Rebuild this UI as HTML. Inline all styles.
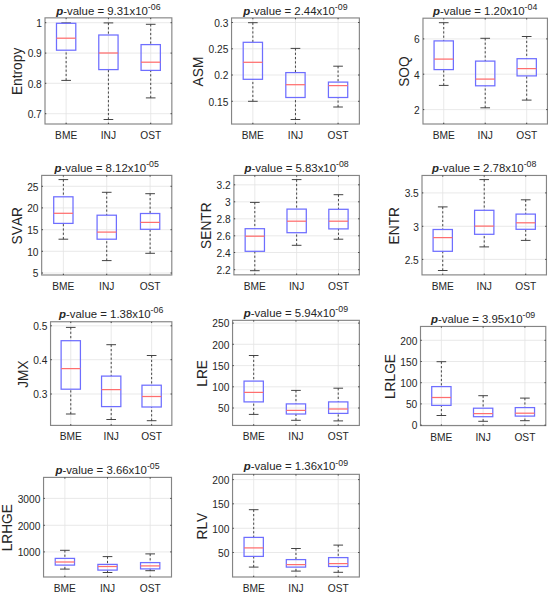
<!DOCTYPE html>
<html><head><meta charset="utf-8"><title>p-value box plots</title>
<style>
html,body{margin:0;padding:0;background:#fff;}
body{width:550px;height:594px;overflow:hidden;}
svg{display:block;}
text{font-family:"Liberation Sans",sans-serif;fill:#262626;font-kerning:none;}
.tl{font-size:10.2px;}
.yl{font-size:14.4px;}
.ti{font-size:11.4px;}
.pb{font-weight:bold;font-style:italic;}
.sp{font-size:8.8px;}
.gr{stroke:#e3e3e3;stroke-width:0.8;}
.ax{fill:none;stroke:#858585;stroke-width:1.15;}
.tk{stroke:#333;stroke-width:0.9;}
.wh{stroke:#454545;stroke-width:1;stroke-dasharray:2.2 2.1;}
.cap{stroke:#3a3a3a;stroke-width:0.95;}
.bx{fill:none;stroke:#6e6eff;stroke-width:1.25;}
.md{stroke:#ff6e6e;stroke-width:1.25;}
</style></head>
<body><svg width="550" height="594" viewBox="0 0 550 594">
<rect width="550" height="594" fill="#fff"/>
<g><line x1="45" y1="22.7" x2="171.85" y2="22.7" class="gr"/><line x1="45" y1="53.1" x2="171.85" y2="53.1" class="gr"/><line x1="45" y1="83.3" x2="171.85" y2="83.3" class="gr"/><line x1="45" y1="113.7" x2="171.85" y2="113.7" class="gr"/><line x1="66.14" y1="17.85" x2="66.14" y2="124" class="gr"/><line x1="108.42" y1="17.85" x2="108.42" y2="124" class="gr"/><line x1="150.71" y1="17.85" x2="150.71" y2="124" class="gr"/><line x1="66.14" y1="22.9" x2="66.14" y2="23.3" class="wh"/><line x1="66.14" y1="80.4" x2="66.14" y2="50.2" class="wh"/><line x1="61.32" y1="22.9" x2="70.97" y2="22.9" class="cap"/><line x1="61.32" y1="80.4" x2="70.97" y2="80.4" class="cap"/><rect x="56.49" y="23.3" width="19.3" height="26.9" class="bx"/><line x1="56.49" y1="38.2" x2="75.79" y2="38.2" class="md"/><line x1="108.42" y1="22.9" x2="108.42" y2="35" class="wh"/><line x1="108.42" y1="119.5" x2="108.42" y2="69.6" class="wh"/><line x1="103.6" y1="22.9" x2="113.25" y2="22.9" class="cap"/><line x1="103.6" y1="119.5" x2="113.25" y2="119.5" class="cap"/><rect x="98.77" y="35" width="19.3" height="34.6" class="bx"/><line x1="98.77" y1="53" x2="118.07" y2="53" class="md"/><line x1="150.71" y1="24.3" x2="150.71" y2="44.6" class="wh"/><line x1="150.71" y1="97.9" x2="150.71" y2="70.4" class="wh"/><line x1="145.88" y1="24.3" x2="155.53" y2="24.3" class="cap"/><line x1="145.88" y1="97.9" x2="155.53" y2="97.9" class="cap"/><rect x="141.06" y="44.6" width="19.3" height="25.8" class="bx"/><line x1="141.06" y1="62.2" x2="160.36" y2="62.2" class="md"/><rect x="45" y="17.85" width="126.85" height="106.15" class="ax"/><line x1="45" y1="22.7" x2="46.3" y2="22.7" class="tk"/><line x1="171.85" y1="22.7" x2="170.55" y2="22.7" class="tk"/><line x1="45" y1="53.1" x2="46.3" y2="53.1" class="tk"/><line x1="171.85" y1="53.1" x2="170.55" y2="53.1" class="tk"/><line x1="45" y1="83.3" x2="46.3" y2="83.3" class="tk"/><line x1="171.85" y1="83.3" x2="170.55" y2="83.3" class="tk"/><line x1="45" y1="113.7" x2="46.3" y2="113.7" class="tk"/><line x1="171.85" y1="113.7" x2="170.55" y2="113.7" class="tk"/><line x1="66.14" y1="124" x2="66.14" y2="122.7" class="tk"/><line x1="66.14" y1="17.85" x2="66.14" y2="19.15" class="tk"/><line x1="108.42" y1="124" x2="108.42" y2="122.7" class="tk"/><line x1="108.42" y1="17.85" x2="108.42" y2="19.15" class="tk"/><line x1="150.71" y1="124" x2="150.71" y2="122.7" class="tk"/><line x1="150.71" y1="17.85" x2="150.71" y2="19.15" class="tk"/><text x="41.8" y="27" class="tl" text-anchor="end">1</text><text x="41.8" y="57.4" class="tl" text-anchor="end">0.9</text><text x="41.8" y="87.6" class="tl" text-anchor="end">0.8</text><text x="41.8" y="118" class="tl" text-anchor="end">0.7</text><text x="66.14" y="138.9" class="tl" text-anchor="middle">BME</text><text x="108.42" y="138.9" class="tl" text-anchor="middle">INJ</text><text x="150.71" y="138.9" class="tl" text-anchor="middle">OST</text><text transform="translate(22,71.42) rotate(-90) scale(0.955,1)" class="yl" text-anchor="middle">Entropy</text><text x="108.42" y="14.55" class="ti" text-anchor="middle"><tspan class="pb">p</tspan>-value = 9.31x10<tspan class="sp" dy="-4.8">-06</tspan></text></g>
<g><line x1="231.55" y1="22.5" x2="359.37" y2="22.5" class="gr"/><line x1="231.55" y1="48.8" x2="359.37" y2="48.8" class="gr"/><line x1="231.55" y1="75" x2="359.37" y2="75" class="gr"/><line x1="231.55" y1="101.3" x2="359.37" y2="101.3" class="gr"/><line x1="252.85" y1="17.96" x2="252.85" y2="124.05" class="gr"/><line x1="295.46" y1="17.96" x2="295.46" y2="124.05" class="gr"/><line x1="338.07" y1="17.96" x2="338.07" y2="124.05" class="gr"/><line x1="252.85" y1="22.7" x2="252.85" y2="42.3" class="wh"/><line x1="252.85" y1="101.3" x2="252.85" y2="79.3" class="wh"/><line x1="248.03" y1="22.7" x2="257.68" y2="22.7" class="cap"/><line x1="248.03" y1="101.3" x2="257.68" y2="101.3" class="cap"/><rect x="243.2" y="42.3" width="19.3" height="37" class="bx"/><line x1="243.2" y1="62.3" x2="262.5" y2="62.3" class="md"/><line x1="295.46" y1="48.4" x2="295.46" y2="72.6" class="wh"/><line x1="295.46" y1="119.5" x2="295.46" y2="97.5" class="wh"/><line x1="290.64" y1="48.4" x2="300.29" y2="48.4" class="cap"/><line x1="290.64" y1="119.5" x2="300.29" y2="119.5" class="cap"/><rect x="285.81" y="72.6" width="19.3" height="24.9" class="bx"/><line x1="285.81" y1="84.7" x2="305.11" y2="84.7" class="md"/><line x1="338.07" y1="66.2" x2="338.07" y2="82.1" class="wh"/><line x1="338.07" y1="107" x2="338.07" y2="97.5" class="wh"/><line x1="333.24" y1="66.2" x2="342.89" y2="66.2" class="cap"/><line x1="333.24" y1="107" x2="342.89" y2="107" class="cap"/><rect x="328.42" y="82.1" width="19.3" height="15.4" class="bx"/><line x1="328.42" y1="85.6" x2="347.72" y2="85.6" class="md"/><rect x="231.55" y="17.96" width="127.82" height="106.09" class="ax"/><line x1="231.55" y1="22.5" x2="232.85" y2="22.5" class="tk"/><line x1="359.37" y1="22.5" x2="358.07" y2="22.5" class="tk"/><line x1="231.55" y1="48.8" x2="232.85" y2="48.8" class="tk"/><line x1="359.37" y1="48.8" x2="358.07" y2="48.8" class="tk"/><line x1="231.55" y1="75" x2="232.85" y2="75" class="tk"/><line x1="359.37" y1="75" x2="358.07" y2="75" class="tk"/><line x1="231.55" y1="101.3" x2="232.85" y2="101.3" class="tk"/><line x1="359.37" y1="101.3" x2="358.07" y2="101.3" class="tk"/><line x1="252.85" y1="124.05" x2="252.85" y2="122.75" class="tk"/><line x1="252.85" y1="17.96" x2="252.85" y2="19.26" class="tk"/><line x1="295.46" y1="124.05" x2="295.46" y2="122.75" class="tk"/><line x1="295.46" y1="17.96" x2="295.46" y2="19.26" class="tk"/><line x1="338.07" y1="124.05" x2="338.07" y2="122.75" class="tk"/><line x1="338.07" y1="17.96" x2="338.07" y2="19.26" class="tk"/><text x="228.35" y="26.8" class="tl" text-anchor="end">0.3</text><text x="228.35" y="53.1" class="tl" text-anchor="end">0.25</text><text x="228.35" y="79.3" class="tl" text-anchor="end">0.2</text><text x="228.35" y="105.6" class="tl" text-anchor="end">0.15</text><text x="252.85" y="138.95" class="tl" text-anchor="middle">BME</text><text x="295.46" y="138.95" class="tl" text-anchor="middle">INJ</text><text x="338.07" y="138.95" class="tl" text-anchor="middle">OST</text><text transform="translate(203.2,71.5) rotate(-90) scale(0.955,1)" class="yl" text-anchor="middle">ASM</text><text x="295.46" y="14.6" class="ti" text-anchor="middle"><tspan class="pb">p</tspan>-value = 2.44x10<tspan class="sp" dy="-4.8">-09</tspan></text></g>
<g><line x1="422.98" y1="38.9" x2="547.44" y2="38.9" class="gr"/><line x1="422.98" y1="74.2" x2="547.44" y2="74.2" class="gr"/><line x1="422.98" y1="109.6" x2="547.44" y2="109.6" class="gr"/><line x1="443.72" y1="18.2" x2="443.72" y2="124" class="gr"/><line x1="485.21" y1="18.2" x2="485.21" y2="124" class="gr"/><line x1="526.7" y1="18.2" x2="526.7" y2="124" class="gr"/><line x1="443.72" y1="22.7" x2="443.72" y2="40.9" class="wh"/><line x1="443.72" y1="85.4" x2="443.72" y2="69.6" class="wh"/><line x1="438.9" y1="22.7" x2="448.55" y2="22.7" class="cap"/><line x1="438.9" y1="85.4" x2="448.55" y2="85.4" class="cap"/><rect x="434.07" y="40.9" width="19.3" height="28.7" class="bx"/><line x1="434.07" y1="59.1" x2="453.37" y2="59.1" class="md"/><line x1="485.21" y1="38.3" x2="485.21" y2="61.1" class="wh"/><line x1="485.21" y1="107.8" x2="485.21" y2="85.8" class="wh"/><line x1="480.39" y1="38.3" x2="490.04" y2="38.3" class="cap"/><line x1="480.39" y1="107.8" x2="490.04" y2="107.8" class="cap"/><rect x="475.56" y="61.1" width="19.3" height="24.7" class="bx"/><line x1="475.56" y1="79.1" x2="494.86" y2="79.1" class="md"/><line x1="526.7" y1="36.5" x2="526.7" y2="58.7" class="wh"/><line x1="526.7" y1="100.1" x2="526.7" y2="75.9" class="wh"/><line x1="521.87" y1="36.5" x2="531.52" y2="36.5" class="cap"/><line x1="521.87" y1="100.1" x2="531.52" y2="100.1" class="cap"/><rect x="517.05" y="58.7" width="19.3" height="17.2" class="bx"/><line x1="517.05" y1="68.6" x2="536.35" y2="68.6" class="md"/><rect x="422.98" y="18.2" width="124.46" height="105.8" class="ax"/><line x1="422.98" y1="38.9" x2="424.28" y2="38.9" class="tk"/><line x1="547.44" y1="38.9" x2="546.14" y2="38.9" class="tk"/><line x1="422.98" y1="74.2" x2="424.28" y2="74.2" class="tk"/><line x1="547.44" y1="74.2" x2="546.14" y2="74.2" class="tk"/><line x1="422.98" y1="109.6" x2="424.28" y2="109.6" class="tk"/><line x1="547.44" y1="109.6" x2="546.14" y2="109.6" class="tk"/><line x1="443.72" y1="124" x2="443.72" y2="122.7" class="tk"/><line x1="443.72" y1="18.2" x2="443.72" y2="19.5" class="tk"/><line x1="485.21" y1="124" x2="485.21" y2="122.7" class="tk"/><line x1="485.21" y1="18.2" x2="485.21" y2="19.5" class="tk"/><line x1="526.7" y1="124" x2="526.7" y2="122.7" class="tk"/><line x1="526.7" y1="18.2" x2="526.7" y2="19.5" class="tk"/><text x="419.78" y="43.2" class="tl" text-anchor="end">6</text><text x="419.78" y="78.5" class="tl" text-anchor="end">4</text><text x="419.78" y="113.9" class="tl" text-anchor="end">2</text><text x="443.72" y="138.9" class="tl" text-anchor="middle">BME</text><text x="485.21" y="138.9" class="tl" text-anchor="middle">INJ</text><text x="526.7" y="138.9" class="tl" text-anchor="middle">OST</text><text transform="translate(409.1,71.6) rotate(-90) scale(0.955,1)" class="yl" text-anchor="middle">SOQ</text><text x="485.21" y="14.6" class="ti" text-anchor="middle"><tspan class="pb">p</tspan>-value = 1.20x10<tspan class="sp" dy="-4.8">-04</tspan></text></g>
<g><line x1="41.67" y1="186.3" x2="171.8" y2="186.3" class="gr"/><line x1="41.67" y1="207.9" x2="171.8" y2="207.9" class="gr"/><line x1="41.67" y1="229.7" x2="171.8" y2="229.7" class="gr"/><line x1="41.67" y1="251.3" x2="171.8" y2="251.3" class="gr"/><line x1="41.67" y1="273" x2="171.8" y2="273" class="gr"/><line x1="63.36" y1="175.4" x2="63.36" y2="275" class="gr"/><line x1="106.73" y1="175.4" x2="106.73" y2="275" class="gr"/><line x1="150.11" y1="175.4" x2="150.11" y2="275" class="gr"/><line x1="63.36" y1="179.6" x2="63.36" y2="196.8" class="wh"/><line x1="63.36" y1="239.2" x2="63.36" y2="223.4" class="wh"/><line x1="58.53" y1="179.6" x2="68.18" y2="179.6" class="cap"/><line x1="58.53" y1="239.2" x2="68.18" y2="239.2" class="cap"/><rect x="53.71" y="196.8" width="19.3" height="26.6" class="bx"/><line x1="53.71" y1="213.3" x2="73.01" y2="213.3" class="md"/><line x1="106.73" y1="192.3" x2="106.73" y2="215.2" class="wh"/><line x1="106.73" y1="260.6" x2="106.73" y2="239.2" class="wh"/><line x1="101.91" y1="192.3" x2="111.56" y2="192.3" class="cap"/><line x1="101.91" y1="260.6" x2="111.56" y2="260.6" class="cap"/><rect x="97.08" y="215.2" width="19.3" height="24" class="bx"/><line x1="97.08" y1="232.1" x2="116.39" y2="232.1" class="md"/><line x1="150.11" y1="193.7" x2="150.11" y2="213.5" class="wh"/><line x1="150.11" y1="253.3" x2="150.11" y2="229.3" class="wh"/><line x1="145.29" y1="193.7" x2="154.94" y2="193.7" class="cap"/><line x1="145.29" y1="253.3" x2="154.94" y2="253.3" class="cap"/><rect x="140.46" y="213.5" width="19.3" height="15.8" class="bx"/><line x1="140.46" y1="222.4" x2="159.76" y2="222.4" class="md"/><rect x="41.67" y="175.4" width="130.13" height="99.6" class="ax"/><line x1="41.67" y1="186.3" x2="42.97" y2="186.3" class="tk"/><line x1="171.8" y1="186.3" x2="170.5" y2="186.3" class="tk"/><line x1="41.67" y1="207.9" x2="42.97" y2="207.9" class="tk"/><line x1="171.8" y1="207.9" x2="170.5" y2="207.9" class="tk"/><line x1="41.67" y1="229.7" x2="42.97" y2="229.7" class="tk"/><line x1="171.8" y1="229.7" x2="170.5" y2="229.7" class="tk"/><line x1="41.67" y1="251.3" x2="42.97" y2="251.3" class="tk"/><line x1="171.8" y1="251.3" x2="170.5" y2="251.3" class="tk"/><line x1="41.67" y1="273" x2="42.97" y2="273" class="tk"/><line x1="171.8" y1="273" x2="170.5" y2="273" class="tk"/><line x1="63.36" y1="275" x2="63.36" y2="273.7" class="tk"/><line x1="63.36" y1="175.4" x2="63.36" y2="176.7" class="tk"/><line x1="106.73" y1="275" x2="106.73" y2="273.7" class="tk"/><line x1="106.73" y1="175.4" x2="106.73" y2="176.7" class="tk"/><line x1="150.11" y1="275" x2="150.11" y2="273.7" class="tk"/><line x1="150.11" y1="175.4" x2="150.11" y2="176.7" class="tk"/><text x="38.47" y="190.6" class="tl" text-anchor="end">25</text><text x="38.47" y="212.2" class="tl" text-anchor="end">20</text><text x="38.47" y="234" class="tl" text-anchor="end">15</text><text x="38.47" y="255.6" class="tl" text-anchor="end">10</text><text x="38.47" y="277.3" class="tl" text-anchor="end">5</text><text x="63.36" y="289.9" class="tl" text-anchor="middle">BME</text><text x="106.73" y="289.9" class="tl" text-anchor="middle">INJ</text><text x="150.11" y="289.9" class="tl" text-anchor="middle">OST</text><text transform="translate(22,225.7) rotate(-90) scale(0.955,1)" class="yl" text-anchor="middle">SVAR</text><text x="106.74" y="171.6" class="ti" text-anchor="middle"><tspan class="pb">p</tspan>-value = 8.12x10<tspan class="sp" dy="-4.8">-05</tspan></text></g>
<g><line x1="233.9" y1="184.8" x2="359.37" y2="184.8" class="gr"/><line x1="233.9" y1="201.8" x2="359.37" y2="201.8" class="gr"/><line x1="233.9" y1="218.8" x2="359.37" y2="218.8" class="gr"/><line x1="233.9" y1="235.8" x2="359.37" y2="235.8" class="gr"/><line x1="233.9" y1="252.5" x2="359.37" y2="252.5" class="gr"/><line x1="233.9" y1="269.7" x2="359.37" y2="269.7" class="gr"/><line x1="254.81" y1="175.46" x2="254.81" y2="274.84" class="gr"/><line x1="296.63" y1="175.46" x2="296.63" y2="274.84" class="gr"/><line x1="338.46" y1="175.46" x2="338.46" y2="274.84" class="gr"/><line x1="254.81" y1="202.4" x2="254.81" y2="228.7" class="wh"/><line x1="254.81" y1="270.7" x2="254.81" y2="251.3" class="wh"/><line x1="249.99" y1="202.4" x2="259.64" y2="202.4" class="cap"/><line x1="249.99" y1="270.7" x2="259.64" y2="270.7" class="cap"/><rect x="245.16" y="228.7" width="19.3" height="22.6" class="bx"/><line x1="245.16" y1="236.2" x2="264.46" y2="236.2" class="md"/><line x1="296.63" y1="179.6" x2="296.63" y2="209.1" class="wh"/><line x1="296.63" y1="245.3" x2="296.63" y2="232.7" class="wh"/><line x1="291.81" y1="179.6" x2="301.46" y2="179.6" class="cap"/><line x1="291.81" y1="245.3" x2="301.46" y2="245.3" class="cap"/><rect x="286.99" y="209.1" width="19.3" height="23.6" class="bx"/><line x1="286.99" y1="221.2" x2="306.28" y2="221.2" class="md"/><line x1="338.46" y1="194.7" x2="338.46" y2="209.3" class="wh"/><line x1="338.46" y1="239.2" x2="338.46" y2="228.9" class="wh"/><line x1="333.63" y1="194.7" x2="343.28" y2="194.7" class="cap"/><line x1="333.63" y1="239.2" x2="343.28" y2="239.2" class="cap"/><rect x="328.81" y="209.3" width="19.3" height="19.6" class="bx"/><line x1="328.81" y1="221.2" x2="348.11" y2="221.2" class="md"/><rect x="233.9" y="175.46" width="125.47" height="99.38" class="ax"/><line x1="233.9" y1="184.8" x2="235.2" y2="184.8" class="tk"/><line x1="359.37" y1="184.8" x2="358.07" y2="184.8" class="tk"/><line x1="233.9" y1="201.8" x2="235.2" y2="201.8" class="tk"/><line x1="359.37" y1="201.8" x2="358.07" y2="201.8" class="tk"/><line x1="233.9" y1="218.8" x2="235.2" y2="218.8" class="tk"/><line x1="359.37" y1="218.8" x2="358.07" y2="218.8" class="tk"/><line x1="233.9" y1="235.8" x2="235.2" y2="235.8" class="tk"/><line x1="359.37" y1="235.8" x2="358.07" y2="235.8" class="tk"/><line x1="233.9" y1="252.5" x2="235.2" y2="252.5" class="tk"/><line x1="359.37" y1="252.5" x2="358.07" y2="252.5" class="tk"/><line x1="233.9" y1="269.7" x2="235.2" y2="269.7" class="tk"/><line x1="359.37" y1="269.7" x2="358.07" y2="269.7" class="tk"/><line x1="254.81" y1="274.84" x2="254.81" y2="273.54" class="tk"/><line x1="254.81" y1="175.46" x2="254.81" y2="176.76" class="tk"/><line x1="296.63" y1="274.84" x2="296.63" y2="273.54" class="tk"/><line x1="296.63" y1="175.46" x2="296.63" y2="176.76" class="tk"/><line x1="338.46" y1="274.84" x2="338.46" y2="273.54" class="tk"/><line x1="338.46" y1="175.46" x2="338.46" y2="176.76" class="tk"/><text x="230.7" y="189.1" class="tl" text-anchor="end">3.2</text><text x="230.7" y="206.1" class="tl" text-anchor="end">3</text><text x="230.7" y="223.1" class="tl" text-anchor="end">2.8</text><text x="230.7" y="240.1" class="tl" text-anchor="end">2.6</text><text x="230.7" y="256.8" class="tl" text-anchor="end">2.4</text><text x="230.7" y="274" class="tl" text-anchor="end">2.2</text><text x="254.81" y="289.74" class="tl" text-anchor="middle">BME</text><text x="296.63" y="289.74" class="tl" text-anchor="middle">INJ</text><text x="338.46" y="289.74" class="tl" text-anchor="middle">OST</text><text transform="translate(211.2,225.65) rotate(-90) scale(0.955,1)" class="yl" text-anchor="middle">SENTR</text><text x="296.63" y="171.6" class="ti" text-anchor="middle"><tspan class="pb">p</tspan>-value = 5.83x10<tspan class="sp" dy="-4.8">-08</tspan></text></g>
<g><line x1="422" y1="192.9" x2="546.45" y2="192.9" class="gr"/><line x1="422" y1="226.3" x2="546.45" y2="226.3" class="gr"/><line x1="422" y1="259.4" x2="546.45" y2="259.4" class="gr"/><line x1="442.74" y1="175.46" x2="442.74" y2="274.9" class="gr"/><line x1="484.23" y1="175.46" x2="484.23" y2="274.9" class="gr"/><line x1="525.71" y1="175.46" x2="525.71" y2="274.9" class="gr"/><line x1="442.74" y1="206.9" x2="442.74" y2="229.5" class="wh"/><line x1="442.74" y1="270.5" x2="442.74" y2="251.3" class="wh"/><line x1="437.92" y1="206.9" x2="447.57" y2="206.9" class="cap"/><line x1="437.92" y1="270.5" x2="447.57" y2="270.5" class="cap"/><rect x="433.09" y="229.5" width="19.3" height="21.8" class="bx"/><line x1="433.09" y1="237.6" x2="452.39" y2="237.6" class="md"/><line x1="484.23" y1="179.6" x2="484.23" y2="210.3" class="wh"/><line x1="484.23" y1="246.9" x2="484.23" y2="234.3" class="wh"/><line x1="479.4" y1="179.6" x2="489.05" y2="179.6" class="cap"/><line x1="479.4" y1="246.9" x2="489.05" y2="246.9" class="cap"/><rect x="474.58" y="210.3" width="19.3" height="24" class="bx"/><line x1="474.58" y1="226.1" x2="493.88" y2="226.1" class="md"/><line x1="525.71" y1="199.8" x2="525.71" y2="214.1" class="wh"/><line x1="525.71" y1="240.4" x2="525.71" y2="229.3" class="wh"/><line x1="520.88" y1="199.8" x2="530.53" y2="199.8" class="cap"/><line x1="520.88" y1="240.4" x2="530.53" y2="240.4" class="cap"/><rect x="516.06" y="214.1" width="19.3" height="15.2" class="bx"/><line x1="516.06" y1="222.8" x2="535.36" y2="222.8" class="md"/><rect x="422" y="175.46" width="124.45" height="99.44" class="ax"/><line x1="422" y1="192.9" x2="423.3" y2="192.9" class="tk"/><line x1="546.45" y1="192.9" x2="545.15" y2="192.9" class="tk"/><line x1="422" y1="226.3" x2="423.3" y2="226.3" class="tk"/><line x1="546.45" y1="226.3" x2="545.15" y2="226.3" class="tk"/><line x1="422" y1="259.4" x2="423.3" y2="259.4" class="tk"/><line x1="546.45" y1="259.4" x2="545.15" y2="259.4" class="tk"/><line x1="442.74" y1="274.9" x2="442.74" y2="273.6" class="tk"/><line x1="442.74" y1="175.46" x2="442.74" y2="176.76" class="tk"/><line x1="484.23" y1="274.9" x2="484.23" y2="273.6" class="tk"/><line x1="484.23" y1="175.46" x2="484.23" y2="176.76" class="tk"/><line x1="525.71" y1="274.9" x2="525.71" y2="273.6" class="tk"/><line x1="525.71" y1="175.46" x2="525.71" y2="176.76" class="tk"/><text x="418.8" y="197.2" class="tl" text-anchor="end">3.5</text><text x="418.8" y="230.6" class="tl" text-anchor="end">3</text><text x="418.8" y="263.7" class="tl" text-anchor="end">2.5</text><text x="442.74" y="289.8" class="tl" text-anchor="middle">BME</text><text x="484.23" y="289.8" class="tl" text-anchor="middle">INJ</text><text x="525.71" y="289.8" class="tl" text-anchor="middle">OST</text><text transform="translate(399.2,225.68) rotate(-90) scale(0.955,1)" class="yl" text-anchor="middle">ENTR</text><text x="484.23" y="171.6" class="ti" text-anchor="middle"><tspan class="pb">p</tspan>-value = 2.78x10<tspan class="sp" dy="-4.8">-08</tspan></text></g>
<g><line x1="50.55" y1="325.8" x2="171.85" y2="325.8" class="gr"/><line x1="50.55" y1="359.7" x2="171.85" y2="359.7" class="gr"/><line x1="50.55" y1="394" x2="171.85" y2="394" class="gr"/><line x1="70.77" y1="321.75" x2="70.77" y2="425.4" class="gr"/><line x1="111.2" y1="321.75" x2="111.2" y2="425.4" class="gr"/><line x1="151.63" y1="321.75" x2="151.63" y2="425.4" class="gr"/><line x1="70.77" y1="327.4" x2="70.77" y2="340.7" class="wh"/><line x1="70.77" y1="414" x2="70.77" y2="389.2" class="wh"/><line x1="65.94" y1="327.4" x2="75.59" y2="327.4" class="cap"/><line x1="65.94" y1="414" x2="75.59" y2="414" class="cap"/><rect x="61.12" y="340.7" width="19.3" height="48.5" class="bx"/><line x1="61.12" y1="368.6" x2="80.42" y2="368.6" class="md"/><line x1="111.2" y1="344.7" x2="111.2" y2="376.1" class="wh"/><line x1="111.2" y1="419.5" x2="111.2" y2="406.6" class="wh"/><line x1="106.37" y1="344.7" x2="116.02" y2="344.7" class="cap"/><line x1="106.37" y1="419.5" x2="116.02" y2="419.5" class="cap"/><rect x="101.55" y="376.1" width="19.3" height="30.5" class="bx"/><line x1="101.55" y1="389.6" x2="120.85" y2="389.6" class="md"/><line x1="151.63" y1="355.5" x2="151.63" y2="385.2" class="wh"/><line x1="151.63" y1="420.7" x2="151.63" y2="407" class="wh"/><line x1="146.81" y1="355.5" x2="156.46" y2="355.5" class="cap"/><line x1="146.81" y1="420.7" x2="156.46" y2="420.7" class="cap"/><rect x="141.98" y="385.2" width="19.3" height="21.8" class="bx"/><line x1="141.98" y1="396.5" x2="161.28" y2="396.5" class="md"/><rect x="50.55" y="321.75" width="121.3" height="103.65" class="ax"/><line x1="50.55" y1="325.8" x2="51.85" y2="325.8" class="tk"/><line x1="171.85" y1="325.8" x2="170.55" y2="325.8" class="tk"/><line x1="50.55" y1="359.7" x2="51.85" y2="359.7" class="tk"/><line x1="171.85" y1="359.7" x2="170.55" y2="359.7" class="tk"/><line x1="50.55" y1="394" x2="51.85" y2="394" class="tk"/><line x1="171.85" y1="394" x2="170.55" y2="394" class="tk"/><line x1="70.77" y1="425.4" x2="70.77" y2="424.1" class="tk"/><line x1="70.77" y1="321.75" x2="70.77" y2="323.05" class="tk"/><line x1="111.2" y1="425.4" x2="111.2" y2="424.1" class="tk"/><line x1="111.2" y1="321.75" x2="111.2" y2="323.05" class="tk"/><line x1="151.63" y1="425.4" x2="151.63" y2="424.1" class="tk"/><line x1="151.63" y1="321.75" x2="151.63" y2="323.05" class="tk"/><text x="47.35" y="330.1" class="tl" text-anchor="end">0.5</text><text x="47.35" y="364" class="tl" text-anchor="end">0.4</text><text x="47.35" y="398.3" class="tl" text-anchor="end">0.3</text><text x="70.77" y="440.3" class="tl" text-anchor="middle">BME</text><text x="111.2" y="440.3" class="tl" text-anchor="middle">INJ</text><text x="151.63" y="440.3" class="tl" text-anchor="middle">OST</text><text transform="translate(27.7,374.07) rotate(-90) scale(0.955,1)" class="yl" text-anchor="middle">JMX</text><text x="111.2" y="318.2" class="ti" text-anchor="middle"><tspan class="pb">p</tspan>-value = 1.38x10<tspan class="sp" dy="-4.8">-06</tspan></text></g>
<g><line x1="232.55" y1="323.1" x2="359.37" y2="323.1" class="gr"/><line x1="232.55" y1="344.3" x2="359.37" y2="344.3" class="gr"/><line x1="232.55" y1="365.6" x2="359.37" y2="365.6" class="gr"/><line x1="232.55" y1="386.8" x2="359.37" y2="386.8" class="gr"/><line x1="232.55" y1="408" x2="359.37" y2="408" class="gr"/><line x1="253.69" y1="320.34" x2="253.69" y2="425.46" class="gr"/><line x1="295.96" y1="320.34" x2="295.96" y2="425.46" class="gr"/><line x1="338.23" y1="320.34" x2="338.23" y2="425.46" class="gr"/><line x1="253.69" y1="355.5" x2="253.69" y2="381.1" class="wh"/><line x1="253.69" y1="414.4" x2="253.69" y2="401.9" class="wh"/><line x1="248.86" y1="355.5" x2="258.51" y2="355.5" class="cap"/><line x1="248.86" y1="414.4" x2="258.51" y2="414.4" class="cap"/><rect x="244.04" y="381.1" width="19.3" height="20.8" class="bx"/><line x1="244.04" y1="392.4" x2="263.34" y2="392.4" class="md"/><line x1="295.96" y1="390.4" x2="295.96" y2="403.9" class="wh"/><line x1="295.96" y1="420.3" x2="295.96" y2="414" class="wh"/><line x1="291.14" y1="390.4" x2="300.79" y2="390.4" class="cap"/><line x1="291.14" y1="420.3" x2="300.79" y2="420.3" class="cap"/><rect x="286.31" y="403.9" width="19.3" height="10.1" class="bx"/><line x1="286.31" y1="410.4" x2="305.61" y2="410.4" class="md"/><line x1="338.23" y1="388.2" x2="338.23" y2="401.9" class="wh"/><line x1="338.23" y1="420.9" x2="338.23" y2="413.4" class="wh"/><line x1="333.41" y1="388.2" x2="343.06" y2="388.2" class="cap"/><line x1="333.41" y1="420.9" x2="343.06" y2="420.9" class="cap"/><rect x="328.58" y="401.9" width="19.3" height="11.5" class="bx"/><line x1="328.58" y1="409" x2="347.88" y2="409" class="md"/><rect x="232.55" y="320.34" width="126.82" height="105.12" class="ax"/><line x1="232.55" y1="323.1" x2="233.85" y2="323.1" class="tk"/><line x1="359.37" y1="323.1" x2="358.07" y2="323.1" class="tk"/><line x1="232.55" y1="344.3" x2="233.85" y2="344.3" class="tk"/><line x1="359.37" y1="344.3" x2="358.07" y2="344.3" class="tk"/><line x1="232.55" y1="365.6" x2="233.85" y2="365.6" class="tk"/><line x1="359.37" y1="365.6" x2="358.07" y2="365.6" class="tk"/><line x1="232.55" y1="386.8" x2="233.85" y2="386.8" class="tk"/><line x1="359.37" y1="386.8" x2="358.07" y2="386.8" class="tk"/><line x1="232.55" y1="408" x2="233.85" y2="408" class="tk"/><line x1="359.37" y1="408" x2="358.07" y2="408" class="tk"/><line x1="253.69" y1="425.46" x2="253.69" y2="424.16" class="tk"/><line x1="253.69" y1="320.34" x2="253.69" y2="321.64" class="tk"/><line x1="295.96" y1="425.46" x2="295.96" y2="424.16" class="tk"/><line x1="295.96" y1="320.34" x2="295.96" y2="321.64" class="tk"/><line x1="338.23" y1="425.46" x2="338.23" y2="424.16" class="tk"/><line x1="338.23" y1="320.34" x2="338.23" y2="321.64" class="tk"/><text x="229.35" y="327.4" class="tl" text-anchor="end">250</text><text x="229.35" y="348.6" class="tl" text-anchor="end">200</text><text x="229.35" y="369.9" class="tl" text-anchor="end">150</text><text x="229.35" y="391.1" class="tl" text-anchor="end">100</text><text x="229.35" y="412.3" class="tl" text-anchor="end">50</text><text x="253.69" y="440.36" class="tl" text-anchor="middle">BME</text><text x="295.96" y="440.36" class="tl" text-anchor="middle">INJ</text><text x="338.23" y="440.36" class="tl" text-anchor="middle">OST</text><text transform="translate(207.1,373.4) rotate(-90) scale(0.955,1)" class="yl" text-anchor="middle">LRE</text><text x="295.96" y="316.7" class="ti" text-anchor="middle"><tspan class="pb">p</tspan>-value = 5.94x10<tspan class="sp" dy="-4.8">-09</tspan></text></g>
<g><line x1="420.5" y1="340.3" x2="545.78" y2="340.3" class="gr"/><line x1="420.5" y1="361.5" x2="545.78" y2="361.5" class="gr"/><line x1="420.5" y1="382.7" x2="545.78" y2="382.7" class="gr"/><line x1="420.5" y1="403.9" x2="545.78" y2="403.9" class="gr"/><line x1="420.5" y1="425.1" x2="545.78" y2="425.1" class="gr"/><line x1="441.38" y1="326.46" x2="441.38" y2="425.6" class="gr"/><line x1="483.14" y1="326.46" x2="483.14" y2="425.6" class="gr"/><line x1="524.9" y1="326.46" x2="524.9" y2="425.6" class="gr"/><line x1="441.38" y1="361.7" x2="441.38" y2="386.6" class="wh"/><line x1="441.38" y1="415.5" x2="441.38" y2="405.4" class="wh"/><line x1="436.56" y1="361.7" x2="446.2" y2="361.7" class="cap"/><line x1="436.56" y1="415.5" x2="446.2" y2="415.5" class="cap"/><rect x="431.73" y="386.6" width="19.3" height="18.8" class="bx"/><line x1="431.73" y1="397.5" x2="451.03" y2="397.5" class="md"/><line x1="483.14" y1="395.7" x2="483.14" y2="408.2" class="wh"/><line x1="483.14" y1="421.3" x2="483.14" y2="416.7" class="wh"/><line x1="478.31" y1="395.7" x2="487.96" y2="395.7" class="cap"/><line x1="478.31" y1="421.3" x2="487.96" y2="421.3" class="cap"/><rect x="473.49" y="408.2" width="19.3" height="8.5" class="bx"/><line x1="473.49" y1="413.6" x2="492.79" y2="413.6" class="md"/><line x1="524.9" y1="398.1" x2="524.9" y2="407.6" class="wh"/><line x1="524.9" y1="420.7" x2="524.9" y2="416.1" class="wh"/><line x1="520.07" y1="398.1" x2="529.73" y2="398.1" class="cap"/><line x1="520.07" y1="420.7" x2="529.73" y2="420.7" class="cap"/><rect x="515.25" y="407.6" width="19.3" height="8.5" class="bx"/><line x1="515.25" y1="413.2" x2="534.55" y2="413.2" class="md"/><rect x="420.5" y="326.46" width="125.28" height="99.14" class="ax"/><line x1="420.5" y1="340.3" x2="421.8" y2="340.3" class="tk"/><line x1="545.78" y1="340.3" x2="544.48" y2="340.3" class="tk"/><line x1="420.5" y1="361.5" x2="421.8" y2="361.5" class="tk"/><line x1="545.78" y1="361.5" x2="544.48" y2="361.5" class="tk"/><line x1="420.5" y1="382.7" x2="421.8" y2="382.7" class="tk"/><line x1="545.78" y1="382.7" x2="544.48" y2="382.7" class="tk"/><line x1="420.5" y1="403.9" x2="421.8" y2="403.9" class="tk"/><line x1="545.78" y1="403.9" x2="544.48" y2="403.9" class="tk"/><line x1="420.5" y1="425.1" x2="421.8" y2="425.1" class="tk"/><line x1="545.78" y1="425.1" x2="544.48" y2="425.1" class="tk"/><line x1="441.38" y1="425.6" x2="441.38" y2="424.3" class="tk"/><line x1="441.38" y1="326.46" x2="441.38" y2="327.76" class="tk"/><line x1="483.14" y1="425.6" x2="483.14" y2="424.3" class="tk"/><line x1="483.14" y1="326.46" x2="483.14" y2="327.76" class="tk"/><line x1="524.9" y1="425.6" x2="524.9" y2="424.3" class="tk"/><line x1="524.9" y1="326.46" x2="524.9" y2="327.76" class="tk"/><text x="417.3" y="344.6" class="tl" text-anchor="end">200</text><text x="417.3" y="365.8" class="tl" text-anchor="end">150</text><text x="417.3" y="387" class="tl" text-anchor="end">100</text><text x="417.3" y="408.2" class="tl" text-anchor="end">50</text><text x="417.3" y="429.4" class="tl" text-anchor="end">0</text><text x="441.38" y="440.5" class="tl" text-anchor="middle">BME</text><text x="483.14" y="440.5" class="tl" text-anchor="middle">INJ</text><text x="524.9" y="440.5" class="tl" text-anchor="middle">OST</text><text transform="translate(395,376.53) rotate(-90) scale(0.955,1)" class="yl" text-anchor="middle">LRLGE</text><text x="483.14" y="322.7" class="ti" text-anchor="middle"><tspan class="pb">p</tspan>-value = 3.95x10<tspan class="sp" dy="-4.8">-09</tspan></text></g>
<g><line x1="43.55" y1="498.4" x2="171.5" y2="498.4" class="gr"/><line x1="43.55" y1="525.3" x2="171.5" y2="525.3" class="gr"/><line x1="43.55" y1="551.9" x2="171.5" y2="551.9" class="gr"/><line x1="64.88" y1="477.4" x2="64.88" y2="577" class="gr"/><line x1="107.53" y1="477.4" x2="107.53" y2="577" class="gr"/><line x1="150.18" y1="477.4" x2="150.18" y2="577" class="gr"/><line x1="64.88" y1="550.3" x2="64.88" y2="558.4" class="wh"/><line x1="64.88" y1="569.1" x2="64.88" y2="565.1" class="wh"/><line x1="60.05" y1="550.3" x2="69.7" y2="550.3" class="cap"/><line x1="60.05" y1="569.1" x2="69.7" y2="569.1" class="cap"/><rect x="55.23" y="558.4" width="19.3" height="6.7" class="bx"/><line x1="55.23" y1="562" x2="74.53" y2="562" class="md"/><line x1="107.53" y1="556.6" x2="107.53" y2="564.4" class="wh"/><line x1="107.53" y1="572.5" x2="107.53" y2="570.1" class="wh"/><line x1="102.7" y1="556.6" x2="112.35" y2="556.6" class="cap"/><line x1="102.7" y1="572.5" x2="112.35" y2="572.5" class="cap"/><rect x="97.88" y="564.4" width="19.3" height="5.7" class="bx"/><line x1="97.88" y1="566.5" x2="117.18" y2="566.5" class="md"/><line x1="150.18" y1="553.9" x2="150.18" y2="562.6" class="wh"/><line x1="150.18" y1="570.7" x2="150.18" y2="568.9" class="wh"/><line x1="145.35" y1="553.9" x2="155" y2="553.9" class="cap"/><line x1="145.35" y1="570.7" x2="155" y2="570.7" class="cap"/><rect x="140.53" y="562.6" width="19.3" height="6.3" class="bx"/><line x1="140.53" y1="565.9" x2="159.83" y2="565.9" class="md"/><rect x="43.55" y="477.4" width="127.95" height="99.6" class="ax"/><line x1="43.55" y1="498.4" x2="44.85" y2="498.4" class="tk"/><line x1="171.5" y1="498.4" x2="170.2" y2="498.4" class="tk"/><line x1="43.55" y1="525.3" x2="44.85" y2="525.3" class="tk"/><line x1="171.5" y1="525.3" x2="170.2" y2="525.3" class="tk"/><line x1="43.55" y1="551.9" x2="44.85" y2="551.9" class="tk"/><line x1="171.5" y1="551.9" x2="170.2" y2="551.9" class="tk"/><line x1="64.88" y1="577" x2="64.88" y2="575.7" class="tk"/><line x1="64.88" y1="477.4" x2="64.88" y2="478.7" class="tk"/><line x1="107.53" y1="577" x2="107.53" y2="575.7" class="tk"/><line x1="107.53" y1="477.4" x2="107.53" y2="478.7" class="tk"/><line x1="150.18" y1="577" x2="150.18" y2="575.7" class="tk"/><line x1="150.18" y1="477.4" x2="150.18" y2="478.7" class="tk"/><text x="40.35" y="502.7" class="tl" text-anchor="end">3000</text><text x="40.35" y="529.6" class="tl" text-anchor="end">2000</text><text x="40.35" y="556.2" class="tl" text-anchor="end">1000</text><text x="64.88" y="591.9" class="tl" text-anchor="middle">BME</text><text x="107.53" y="591.9" class="tl" text-anchor="middle">INJ</text><text x="150.18" y="591.9" class="tl" text-anchor="middle">OST</text><text transform="translate(12.4,527.7) rotate(-90) scale(0.955,1)" class="yl" text-anchor="middle">LRHGE</text><text x="107.53" y="473.6" class="ti" text-anchor="middle"><tspan class="pb">p</tspan>-value = 3.66x10<tspan class="sp" dy="-4.8">-05</tspan></text></g>
<g><line x1="232.55" y1="479.6" x2="359.37" y2="479.6" class="gr"/><line x1="232.55" y1="503.8" x2="359.37" y2="503.8" class="gr"/><line x1="232.55" y1="528.3" x2="359.37" y2="528.3" class="gr"/><line x1="232.55" y1="552.5" x2="359.37" y2="552.5" class="gr"/><line x1="253.69" y1="474.34" x2="253.69" y2="577" class="gr"/><line x1="295.96" y1="474.34" x2="295.96" y2="577" class="gr"/><line x1="338.23" y1="474.34" x2="338.23" y2="577" class="gr"/><line x1="253.69" y1="509.7" x2="253.69" y2="537.4" class="wh"/><line x1="253.69" y1="567.1" x2="253.69" y2="556.4" class="wh"/><line x1="248.86" y1="509.7" x2="258.51" y2="509.7" class="cap"/><line x1="248.86" y1="567.1" x2="258.51" y2="567.1" class="cap"/><rect x="244.04" y="537.4" width="19.3" height="19" class="bx"/><line x1="244.04" y1="547.9" x2="263.34" y2="547.9" class="md"/><line x1="295.96" y1="548.5" x2="295.96" y2="559.6" class="wh"/><line x1="295.96" y1="571.1" x2="295.96" y2="567.1" class="wh"/><line x1="291.14" y1="548.5" x2="300.79" y2="548.5" class="cap"/><line x1="291.14" y1="571.1" x2="300.79" y2="571.1" class="cap"/><rect x="286.31" y="559.6" width="19.3" height="7.5" class="bx"/><line x1="286.31" y1="564.6" x2="305.61" y2="564.6" class="md"/><line x1="338.23" y1="545.1" x2="338.23" y2="557.6" class="wh"/><line x1="338.23" y1="572.3" x2="338.23" y2="566.5" class="wh"/><line x1="333.41" y1="545.1" x2="343.06" y2="545.1" class="cap"/><line x1="333.41" y1="572.3" x2="343.06" y2="572.3" class="cap"/><rect x="328.58" y="557.6" width="19.3" height="8.9" class="bx"/><line x1="328.58" y1="563.6" x2="347.88" y2="563.6" class="md"/><rect x="232.55" y="474.34" width="126.82" height="102.66" class="ax"/><line x1="232.55" y1="479.6" x2="233.85" y2="479.6" class="tk"/><line x1="359.37" y1="479.6" x2="358.07" y2="479.6" class="tk"/><line x1="232.55" y1="503.8" x2="233.85" y2="503.8" class="tk"/><line x1="359.37" y1="503.8" x2="358.07" y2="503.8" class="tk"/><line x1="232.55" y1="528.3" x2="233.85" y2="528.3" class="tk"/><line x1="359.37" y1="528.3" x2="358.07" y2="528.3" class="tk"/><line x1="232.55" y1="552.5" x2="233.85" y2="552.5" class="tk"/><line x1="359.37" y1="552.5" x2="358.07" y2="552.5" class="tk"/><line x1="253.69" y1="577" x2="253.69" y2="575.7" class="tk"/><line x1="253.69" y1="474.34" x2="253.69" y2="475.64" class="tk"/><line x1="295.96" y1="577" x2="295.96" y2="575.7" class="tk"/><line x1="295.96" y1="474.34" x2="295.96" y2="475.64" class="tk"/><line x1="338.23" y1="577" x2="338.23" y2="575.7" class="tk"/><line x1="338.23" y1="474.34" x2="338.23" y2="475.64" class="tk"/><text x="229.35" y="483.9" class="tl" text-anchor="end">200</text><text x="229.35" y="508.1" class="tl" text-anchor="end">150</text><text x="229.35" y="532.6" class="tl" text-anchor="end">100</text><text x="229.35" y="556.8" class="tl" text-anchor="end">50</text><text x="253.69" y="591.9" class="tl" text-anchor="middle">BME</text><text x="295.96" y="591.9" class="tl" text-anchor="middle">INJ</text><text x="338.23" y="591.9" class="tl" text-anchor="middle">OST</text><text transform="translate(207.1,526.17) rotate(-90) scale(0.955,1)" class="yl" text-anchor="middle">RLV</text><text x="295.96" y="470.4" class="ti" text-anchor="middle"><tspan class="pb">p</tspan>-value = 1.36x10<tspan class="sp" dy="-4.8">-09</tspan></text></g>
</svg></body></html>
